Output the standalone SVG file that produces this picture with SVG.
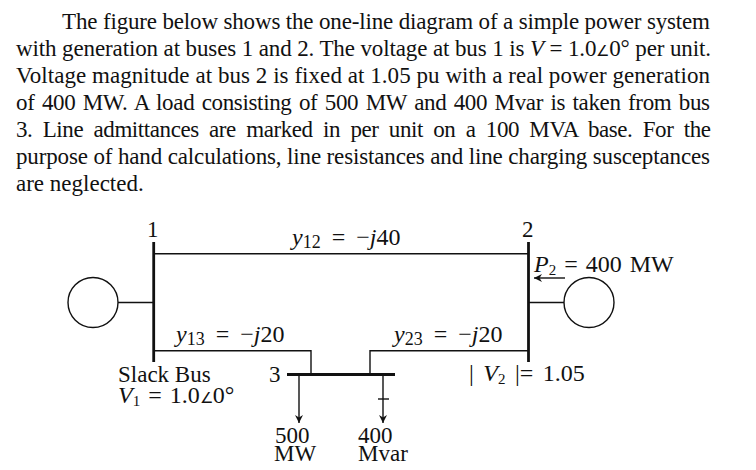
<svg xmlns="http://www.w3.org/2000/svg" width="756" height="470" viewBox="0 0 756 470">
<style>
text{font-family:"Liberation Serif","Times New Roman",serif;fill:#111}
.p{font-size:23px}
.d{font-size:23px}
.e{font-size:24px;word-spacing:2px}
.y{font-size:24px;word-spacing:5px}
.i{font-style:italic}
.s{font-size:15px}
.t{font-size:18px}
.g{font-size:15px}
.line{fill:none;stroke:#111;stroke-width:1.4}
.bus{fill:none;stroke:#111;stroke-width:2.8}
.gen{fill:#fff;stroke:#111;stroke-width:1.4}
</style>
<defs>
<marker id="a" markerWidth="10" markerHeight="10" refX="8" refY="4" orient="auto" markerUnits="userSpaceOnUse"><path d="M0 0 L8 4 L0 8 L2.5 4Z" fill="#111"/></marker>
</defs>
<g id="paragraph">
<text class="p" x="62" y="29" textLength="648">The figure below shows the one-line diagram of a simple power system</text>
<text class="p" x="16" y="56" textLength="695">with generation at buses 1 and 2. The voltage at bus 1 is <tspan class="i">V</tspan> = 1.0<tspan class="g">∠</tspan>0° per unit.</text>
<text class="p" x="16" y="83" textLength="694">Voltage magnitude at bus 2 is fixed at 1.05 pu with a real power generation</text>
<text class="p" x="16" y="110" textLength="694" word-spacing="2">of 400 MW. A load consisting of 500 MW and 400 Mvar is taken from bus</text>
<text class="p" x="16" y="137" textLength="695" word-spacing="5">3. Line admittances are marked in per unit on a 100 MVA base. For the</text>
<text class="p" x="16" y="164" textLength="694">purpose of hand calculations, line resistances and line charging susceptances</text>
<text class="p" x="16" y="191">are neglected.</text>
</g>
<g id="connectors">
<path class="line" d="M154 253.7H528"/>
<path class="line" d="M118 302.5H154"/>
<path class="line" d="M528 302.5H564"/>
<path class="line" d="M154 350.7H311V374"/>
<path class="line" d="M528 350.7H370V374"/>
<path class="line" d="M299 374V423" marker-end="url(#a)"/>
<path class="line" d="M383 374V423" marker-end="url(#a)"/>
<path class="line" d="M378 399H389"/>
<path class="line" d="M565 278H534" marker-end="url(#a)"/>
</g>
<g id="bus1"><path class="bus" d="M153.7 242V362"/><text class="d" x="147" y="237">1</text></g>
<g id="bus2"><path class="bus" d="M528.5 242V362"/><text class="d" x="522" y="237">2</text></g>
<g id="bus3"><path class="bus" d="M287 374.5H395"/><text class="d" x="269" y="382">3</text></g>
<g id="gen1"><circle class="gen" cx="93" cy="302.5" r="25"/></g>
<g id="gen2"><circle class="gen" cx="589" cy="302.5" r="25"/></g>
<g id="labels">
<text class="y" x="292" y="245"><tspan class="i">y</tspan><tspan class="t" dy="3">12</tspan><tspan dy="-3"> = −</tspan><tspan class="i">j</tspan>40</text>
<text class="y" x="176" y="342"><tspan class="i">y</tspan><tspan class="t" dy="3">13</tspan><tspan dy="-3"> = −</tspan><tspan class="i">j</tspan>20</text>
<text class="y" x="394" y="342"><tspan class="i">y</tspan><tspan class="t" dy="3">23</tspan><tspan dy="-3"> = −</tspan><tspan class="i">j</tspan>20</text>
<text class="d" x="118" y="382">Slack Bus</text>
<text class="e" x="118" y="403"><tspan class="i">V</tspan><tspan class="s" dy="3">1</tspan><tspan dy="-3"> = 1.0</tspan><tspan class="g">∠</tspan>0°</text>
<text class="e" x="534" y="272"><tspan class="i">P</tspan><tspan class="s" dy="3">2</tspan><tspan dy="-3"> = 400 MW</tspan></text>
<text class="e" x="469" y="381" word-spacing="3.5" style="word-spacing:3.5px">| <tspan class="i">V</tspan><tspan class="s" dy="3">2</tspan><tspan dy="-3"> |= 1.05</tspan></text>
<text class="d" x="275" y="443">500</text>
<text class="d" x="274" y="461">MW</text>
<text class="d" x="358" y="443">400</text>
<text class="d" x="358" y="461">Mvar</text>
</g>
</svg>
